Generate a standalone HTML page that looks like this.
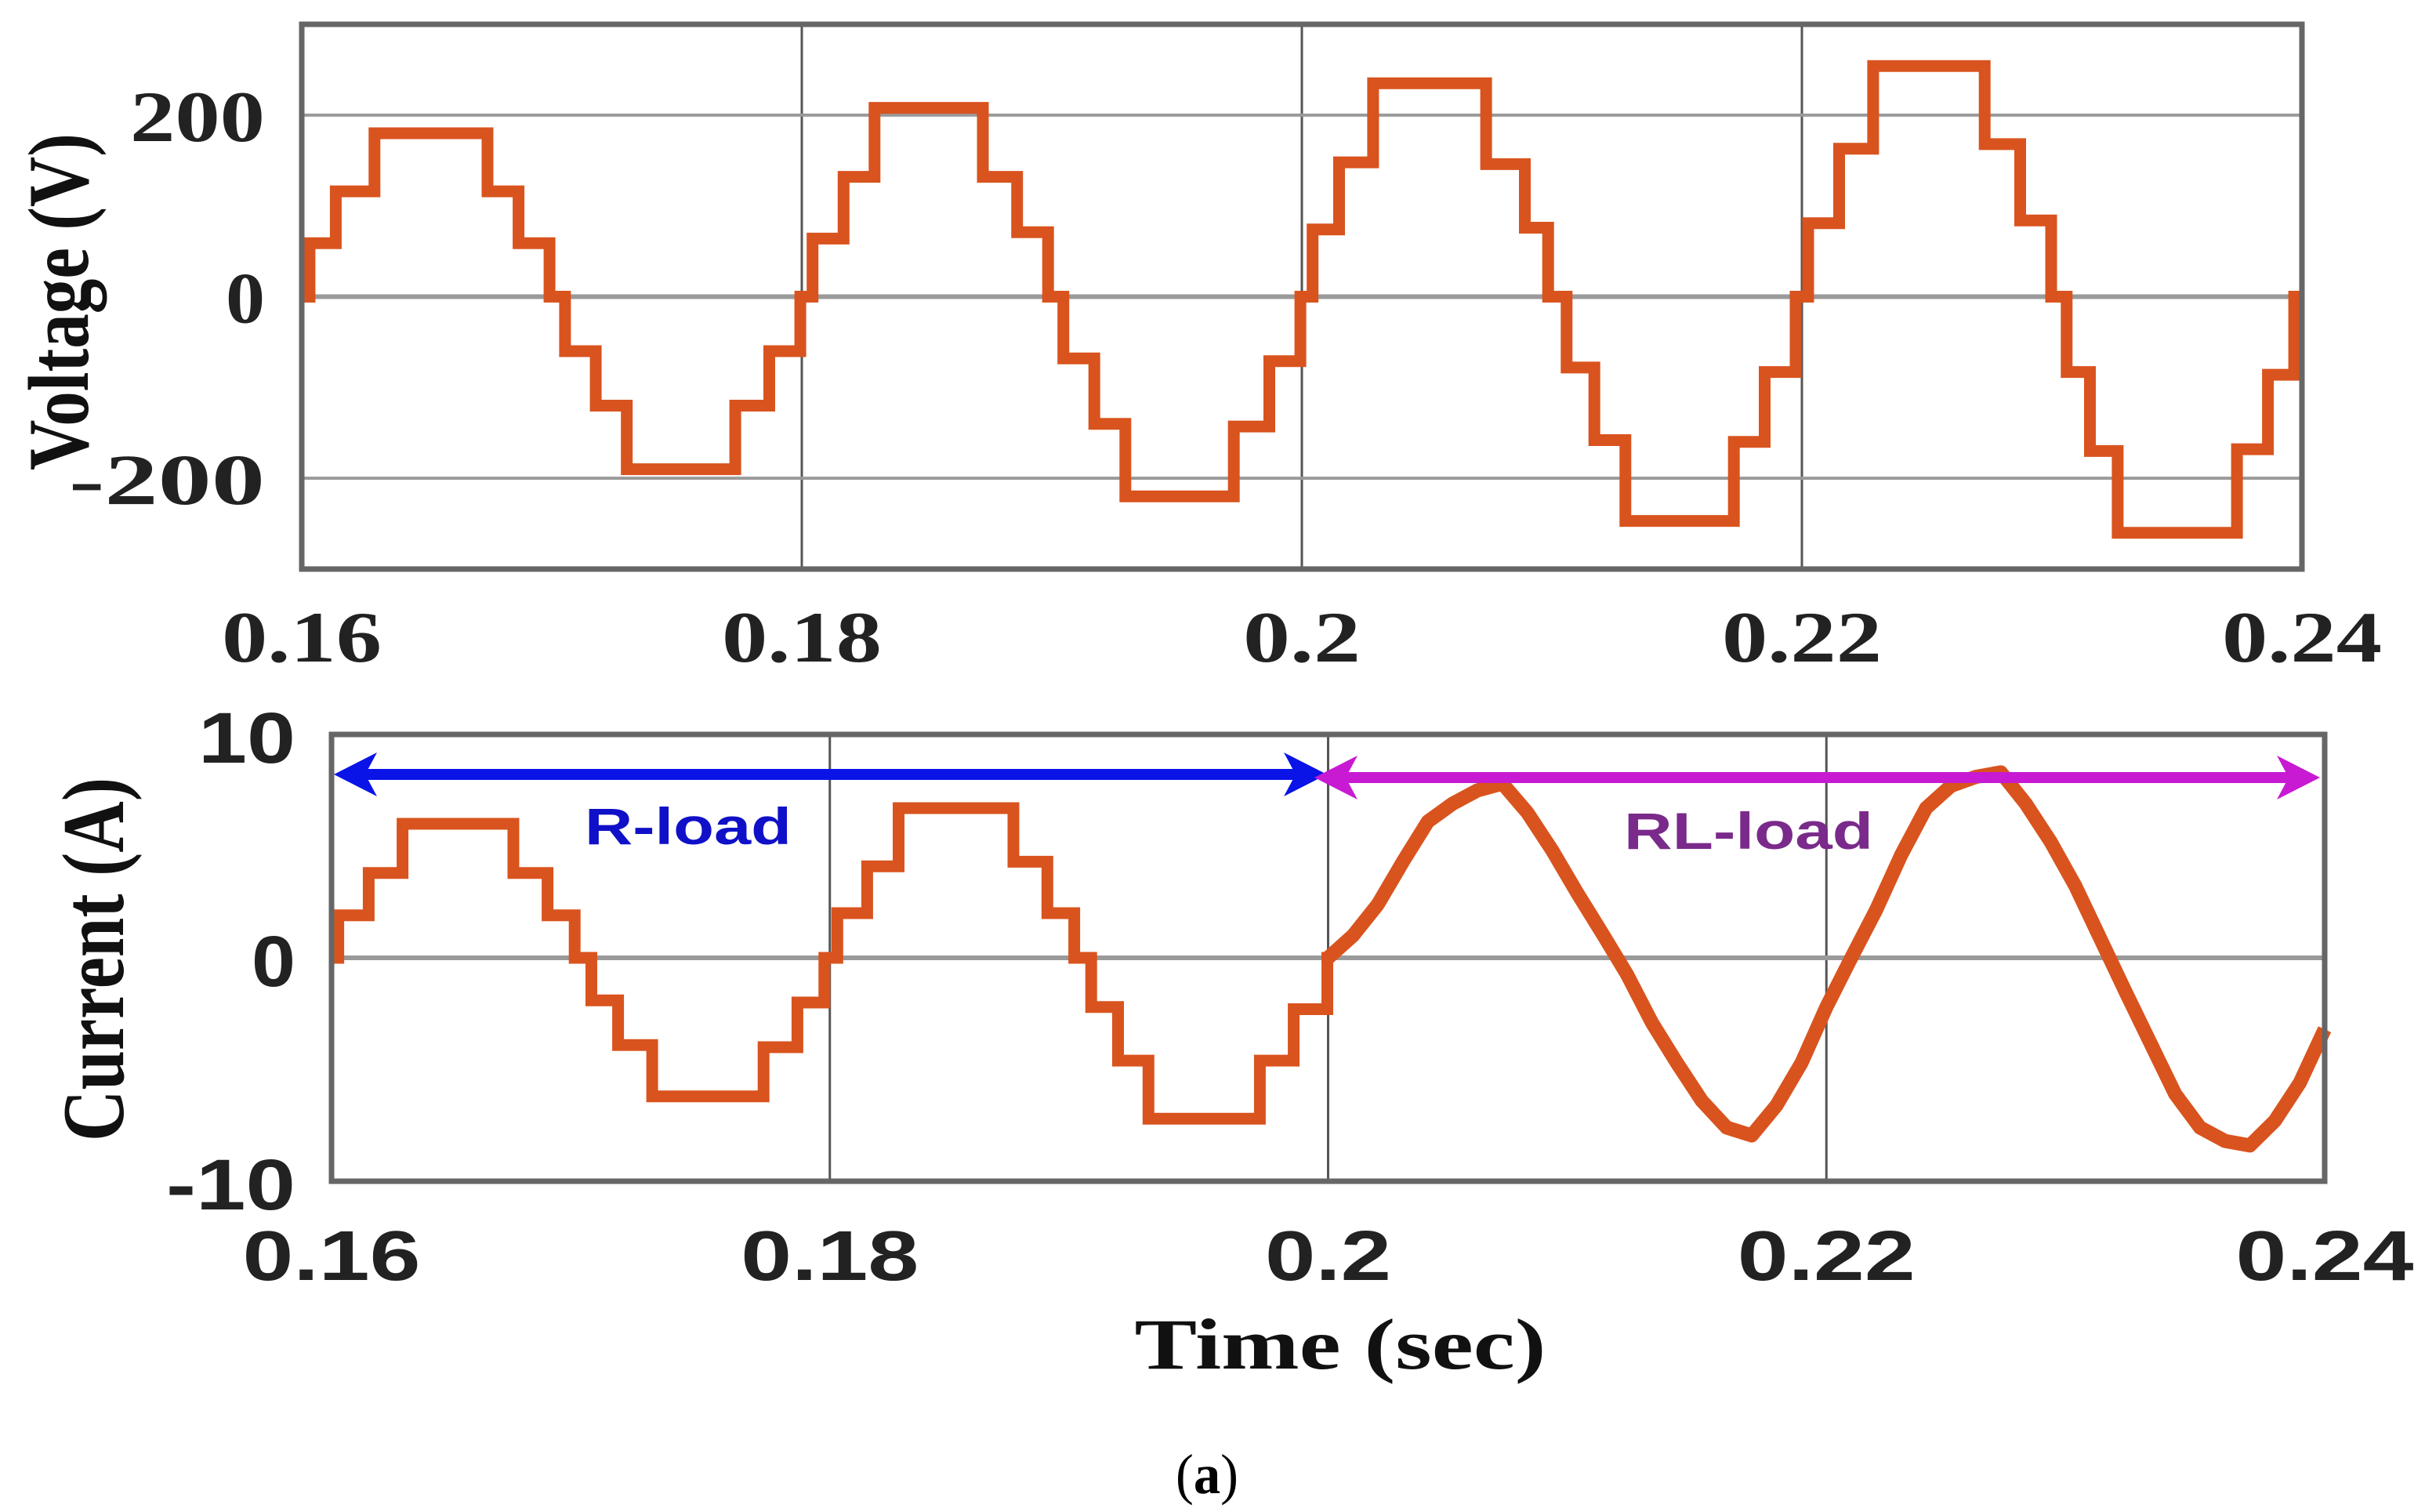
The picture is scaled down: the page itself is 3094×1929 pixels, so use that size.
<!DOCTYPE html>
<html><head><meta charset="utf-8"><style>
html,body{margin:0;padding:0;background:#fff;}
svg{display:block;}
</style></head><body>
<svg id="fig" xmlns="http://www.w3.org/2000/svg" width="3094" height="1929" viewBox="0 0 3094 1929">
<rect x="0" y="0" width="3094" height="1929" fill="#fff"/>
<g id="top"></g>
<g id="bot"></g>
<text x="1540" y="1905" text-anchor="middle" font-family="Liberation Serif, serif" font-size="72" textLength="80" lengthAdjust="spacingAndGlyphs">(<tspan font-weight="bold">a</tspan>)</text>
</svg>
<script>
// ---- Voltage data (step start time in s, level in V)
const vTimes = [0.16,0.16031,0.16136,0.16291,0.16743,0.16867,0.16991,0.17053,0.17176,0.1730,0.17734,0.1787,0.17994,0.18043,0.18167,0.18291,0.18724,0.18861,0.18985,0.19046,0.1917,0.19294,0.19728,0.1987,0.19994,0.20043,0.20149,0.20285,0.20737,0.20892,0.20985,0.21059,0.2117,0.21294,0.21728,0.21851,0.21975,0.22025,0.22149,0.22285,0.22731,0.22873,0.22997,0.23059,0.23152,0.23263,0.2374,0.23864,0.23969];
const vLevels = [0,59,116,180,116,59,0,-60,-120,-190,-120,-60,0,64,132,208,132,71,0,-68,-140,-220,-143,-71,0,74,148,235,146,76,0,-78,-158,-247,-160,-83,0,81,163,254,168,84,0,-83,-170,-260,-168,-86,0];
// ---- Current R-load steps (0.16-0.20)
const iTimes = [0.16,0.16027,0.16149,0.16285,0.1673,0.16867,0.16976,0.17043,0.1715,0.17287,0.17734,0.1787,0.17978,0.1803,0.1815,0.18276,0.18737,0.18873,0.18981,0.19049,0.19157,0.19279,0.19726,0.19862,0.19997];
const iLevels = [0,1.9,3.8,6.0,3.8,1.9,0,-1.9,-3.9,-6.2,-4.0,-2.0,0,2.0,4.1,6.7,4.3,2.0,0,-2.2,-4.6,-7.2,-4.6,-2.3,0];
// ---- Current RL-load samples every 1 ms from 0.20 to 0.24
const rlValues = [0,1.0,2.4,4.3,6.1,6.9,7.5,7.8,6.5,4.8,2.9,1.1,-0.75,-2.9,-4.7,-6.4,-7.6,-7.95,-6.6,-4.7,-2.2,0,2.15,4.6,6.7,7.7,8.1,8.3,6.9,5.2,3.2,0.85,-1.5,-3.8,-6.1,-7.6,-8.2,-8.4,-7.3,-5.6,-3.2];
const xTicks = [0.16,0.18,0.2,0.22,0.24];
const xTickLabels = ["0.16","0.18","0.2","0.22","0.24"];
const vTicks = [200,0,-200];
const vTickLabels = ["200","0","-200"];
const iTicks = [10,0,-10];
const iTickLabels = ["10","0","-10"];

const NS="http://www.w3.org/2000/svg";
function mk(parent,tag,attrs){const e=document.createElementNS(NS,tag);for(const k in attrs)e.setAttribute(k,attrs[k]);parent.appendChild(e);return e;}

const P1={l:385,r:2937,t:31,b:726,ymin:-300,ymax:300};
const P2={l:423,r:2966,t:937,b:1507,ymin:-10,ymax:10};
function sx(P,t){return P.l+(t-0.16)/0.08*(P.r-P.l);}
function sy(P,v){return P.b-(v-P.ymin)/(P.ymax-P.ymin)*(P.b-P.t);}
function stepPath(P,ts,vs,tEnd){let d="M"+sx(P,ts[0])+","+sy(P,vs[0]);for(let i=0;i<ts.length;i++){const tn=i+1<ts.length?ts[i+1]:tEnd;d+=" H"+sx(P,tn).toFixed(1);if(i+1<ts.length)d+=" V"+sy(P,vs[i+1]).toFixed(1);}return d;}

function frame(g,P,yTicks){
  for(const t of xTicks.slice(1,-1)){const l=mk(g,"line",{x1:sx(P,t),x2:sx(P,t),y1:P.t,y2:P.b,stroke:"#555","stroke-width":3});
    
    }
  for(const v of yTicks){if(v<=P.ymin||v>=P.ymax)continue;const l=mk(g,"line",{x1:P.l,x2:P.r,y1:sy(P,v),y2:sy(P,v),stroke:"#9a9a9a","stroke-width":v===0?6:4});
    
    }
}
function box(g,P){const r=mk(g,"rect",{x:P.l,y:P.t,width:P.r-P.l,height:P.b-P.t,fill:"none",stroke:"#666","stroke-width":7});
  
  }

const g1=document.getElementById("top");


frame(g1,P1,vTicks);
const vp=mk(g1,"path",{d:stepPath(P1,vTimes,vLevels,0.24),fill:"none",stroke:"#d9531e","stroke-width":15,"stroke-linejoin":"miter"});


box(g1,P1);
xTicks.forEach((t,i)=>{const w=[204,204,150,204,204][i];const e=mk(g1,"text",{x:sx(P1,t),y:844,"text-anchor":"middle","font-family":"Liberation Serif, serif","font-weight":"bold","font-size":92,fill:"#222",textLength:w,lengthAdjust:"spacingAndGlyphs"});e.textContent=xTickLabels[i];
  
  });
vTicks.forEach((v,i)=>{const w=[172,50,250][i];const e=mk(g1,"text",{x:338,y:sy(P1,v)+33,"text-anchor":"end","font-family":"Liberation Serif, serif","font-weight":"bold","font-size":92,fill:"#222",textLength:w,lengthAdjust:"spacingAndGlyphs"});e.textContent=vTickLabels[i];
  
  });
{const e=mk(g1,"text",{x:0,y:0,transform:"translate(112,385) rotate(-90)","text-anchor":"middle","font-family":"Liberation Serif, serif","font-weight":"bold","font-size":110,fill:"#111",textLength:430,lengthAdjust:"spacingAndGlyphs"});e.textContent="Voltage (V)";
  
  }

const g2=document.getElementById("bot");


frame(g2,P2,iTicks);
const ip=mk(g2,"path",{d:stepPath(P2,iTimes,iLevels,0.2),fill:"none",stroke:"#d9531e","stroke-width":15});


{let d="";rlValues.forEach((v,i)=>{const t=0.2+i*0.001;d+=(i?" L":"M")+sx(P2,t).toFixed(1)+","+sy(P2,v).toFixed(1);});
const rp=mk(g2,"path",{d:d,fill:"none",stroke:"#d9531e","stroke-width":18,"stroke-linejoin":"round"});

}
box(g2,P2);
function arrow(x1,x2,y,col,name){const a=mk(g2,"g",{});
  
  
  mk(a,"line",{x1:x1+30,x2:x2-30,y1:y,y2:y,stroke:col,"stroke-width":14});
  mk(a,"path",{d:`M${x1},${y} L${x1+55},${y-28} L${x1+40},${y} L${x1+55},${y+28} Z`,fill:col});
  mk(a,"path",{d:`M${x2},${y} L${x2-55},${y-28} L${x2-40},${y} L${x2-55},${y+28} Z`,fill:col});}
arrow(426,1693,988,"#0a14e6","r-load-arrow");
arrow(1677,2960,992,"#c81ad2","rl-load-arrow");
{const e=mk(g2,"text",{x:878,y:1077,"text-anchor":"middle","font-family":"Liberation Sans, sans-serif","font-weight":"bold","font-size":66,fill:"#1010c8",textLength:264,lengthAdjust:"spacingAndGlyphs"});e.textContent="R-load";
  
  }
{const e=mk(g2,"text",{x:2231,y:1083,"text-anchor":"middle","font-family":"Liberation Sans, sans-serif","font-weight":"bold","font-size":66,fill:"#7a2a8a",textLength:318,lengthAdjust:"spacingAndGlyphs"});e.textContent="RL-load";
  
  }
xTicks.forEach((t,i)=>{const w=[227,227,161,227,227][i];const e=mk(g2,"text",{x:sx(P2,t),y:1633,"text-anchor":"middle","font-family":"Liberation Sans, sans-serif","font-weight":"bold","font-size":90,fill:"#222",textLength:w,lengthAdjust:"spacingAndGlyphs"});e.textContent=xTickLabels[i];
  
  });
iTicks.forEach((v,i)=>{const w=[124,56,165][i];const e=mk(g2,"text",{x:377,y:sy(P2,v)+36,"text-anchor":"end","font-family":"Liberation Sans, sans-serif","font-weight":"bold","font-size":92,fill:"#222",textLength:w,lengthAdjust:"spacingAndGlyphs"});e.textContent=iTickLabels[i];
  
  });
{const e=mk(g2,"text",{x:0,y:0,transform:"translate(157,1224) rotate(-90)","text-anchor":"middle","font-family":"Liberation Serif, serif","font-weight":"bold","font-size":112,fill:"#111",textLength:464,lengthAdjust:"spacingAndGlyphs"});e.textContent="Current (A)";
  
  }
{const e=mk(g2,"text",{x:1710,y:1746,"text-anchor":"middle","font-family":"Liberation Serif, serif","font-weight":"bold","font-size":92,fill:"#111",textLength:525,lengthAdjust:"spacingAndGlyphs"});e.textContent="Time (sec)";
  
  }
</script>
</body></html>
